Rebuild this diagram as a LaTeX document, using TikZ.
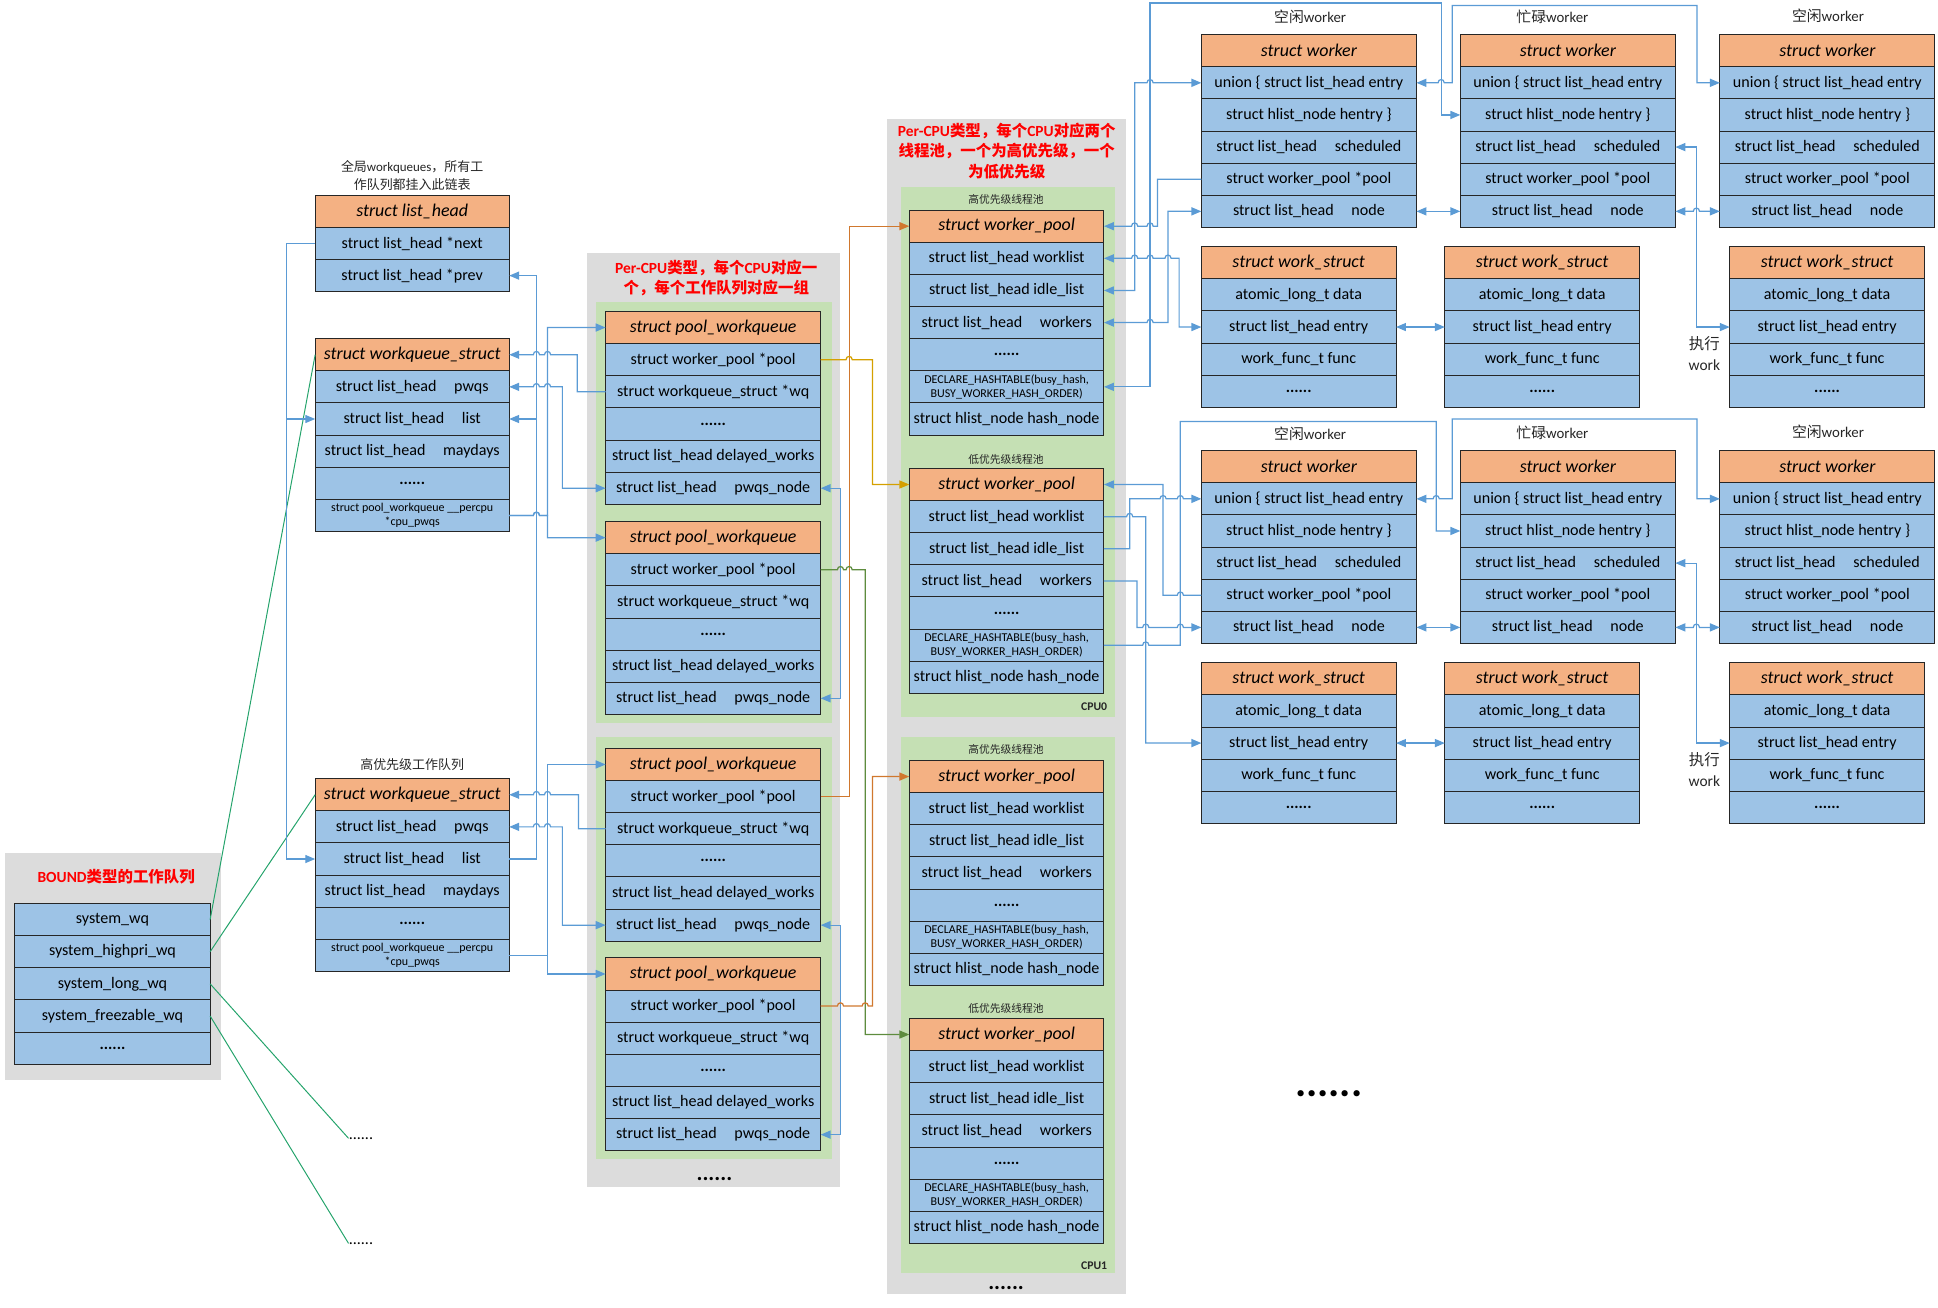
\documentclass[tikz,border=0pt]{standalone}
\usepackage{fontspec}
\setmainfont{Carlito}
\newfontfamily\cjk{Noto Sans CJK SC}
\usetikzlibrary{arrows.meta, positioning}

\definecolor{hdrfill}{HTML}{F4B183}
\definecolor{fldfill}{HTML}{9DC3E6}
\definecolor{grpgray}{HTML}{DCDCDC}
\definecolor{grpgreen}{HTML}{C5E0B4}
\definecolor{lnblue}{HTML}{5B9BD5}
\definecolor{lnorange}{HTML}{D0782E}
\definecolor{lngold}{HTML}{D4A000}
\definecolor{lngreen}{HTML}{5E8C3E}
\definecolor{lnbound}{HTML}{24A36B}
\definecolor{ttlred}{HTML}{FF0000}

\newcommand{\zh}[1]{{\cjk #1}}
\newcommand{\smfont}{\fontsize{9.7}{11.5}\selectfont}
\protected\def\rowdots{\textbf{......}}
% hop over a vertical line, going left / going right
\newcommand{\hopl}[2]{-- (#1+2.5,#2) .. controls (#1+2.5,#2-3.5) and (#1-2.5,#2-3.5) .. (#1-2.5,#2)}
\newcommand{\hopr}[2]{-- (#1-2.5,#2) .. controls (#1-2.5,#2-3.5) and (#1+2.5,#2-3.5) .. (#1+2.5,#2)}

% rows of each struct
\newcommand{\lhrows}{next/struct list\_head *next, prev/struct list\_head *prev}
\newcommand{\wqrows}{pwqs/struct list\_head\hspace{1.1em}pwqs, list/struct list\_head\hspace{1.1em}list, mayd/struct list\_head\hspace{1.1em}maydays, dots/\rowdots, cpu/\smfont struct pool\_workqueue \_\_percpu\\[-3.5pt]\smfont *cpu\_pwqs}
\newcommand{\pwqrows}{pool/struct worker\_pool *pool, wq/struct workqueue\_struct *wq, dots/\rowdots, dly/struct list\_head delayed\_works, node/struct list\_head\hspace{1.1em}pwqs\_node}
\newcommand{\wprows}{work/struct list\_head worklist, idle/struct list\_head idle\_list, wkrs/struct list\_head\hspace{1.1em}workers, dots/\rowdots, busy/\smfont DECLARE\_HASHTABLE(busy\_hash{,}\\[-3.5pt]\smfont BUSY\_WORKER\_HASH\_ORDER), hash/struct hlist\_node hash\_node}
\newcommand{\wkrows}{entry/union \{ struct list\_head entry, hent/struct hlist\_node hentry \}, sched/struct list\_head\hspace{1.1em}scheduled, pool/struct worker\_pool *pool, node/struct list\_head\hspace{1.1em}node}
\newcommand{\wsrows}{data/atomic\_long\_t data, entry/struct list\_head entry, func/work\_func\_t func, dots/\rowdots}

% header node plus its rows stacked below
\newcommand{\structbox}[5]{%
  \node[hdr, minimum width=#3, anchor=north west] (#1) at (#2) {#4};
  \xdef\lastrow{#1}%
  \foreach \rn/\rt in #5 {%
    \node[fld, minimum width=#3, below=0pt of \lastrow] (#1-\rn) {\rt};
    \xdef\lastrow{#1-\rn}%
  }%
}

\begin{document}
\begin{tikzpicture}[x=1pt, y=-1pt, >={Triangle[length=8pt,width=6.5pt]},
  hdr/.style={draw=black!85, line width=0.8pt, fill=hdrfill, minimum height=26, inner sep=1pt, outer sep=0pt, font=\fontsize{14.5}{17}\selectfont\itshape},
  fld/.style={draw=black!85, line width=0.8pt, fill=fldfill, minimum height=26, inner sep=1pt, outer sep=0pt, align=center, font=\fontsize{13}{15}\selectfont},
  lbl/.style={inner sep=0pt, align=center, text=black!85, font=\fontsize{10.5}{14.5}\selectfont},
  ttl/.style={inner sep=0pt, align=center, text=ttlred, font=\fontsize{12.5}{16.5}\selectfont\bfseries},
  pooltag/.style={inner sep=0pt, text=black!85, font=\fontsize{8.7}{10}\selectfont},
  cputag/.style={inner sep=0pt, anchor=east, text=black!85, font=\fontsize{9.5}{10}\selectfont\bfseries},
  wktag/.style={inner sep=0pt, text=black!85, font=\fontsize{12}{14}\selectfont},
  link/.style={draw=lnblue, line width=1pt},
  olink/.style={draw=lnorange, line width=1pt},
  ylink/.style={draw=lngold, line width=1pt},
  glink/.style={draw=lngreen, line width=1pt},
  bline/.style={draw=lnbound, line width=0.8pt}]

\useasboundingbox (0,0) rectangle (1568,1058);

% groups
\fill[grpgray] (4,690) rectangle (179,874);
\fill[grpgray] (475,205) rectangle (680,960);
\fill[grpgreen] (482,244) rectangle (673,585);
\fill[grpgreen] (482,596) rectangle (673,938);
\fill[grpgray] (718,96) rectangle (911,1047);
\fill[grpgreen] (729,151) rectangle (902,580);
\fill[grpgreen] (729,596) rectangle (902,1030);

% labels
\node[ttl] (boundttl) at (94,709.5) {BOUND\zh{类型的工作队列}};
\node[lbl] (lhlbl) at (333.5,142) {\zh{全局}workqueues\zh{，所有工}\\\zh{作队列都挂入此链表}};
\node[lbl] (hqlbl) at (333.5,619) {\zh{高优先级工作队列}};
\node[ttl] (pwqttl) at (579.5,225) {Per-CPU\zh{类型，每个}CPU\zh{对应一}\\\zh{个，每个工作队列对应一组}};
\node[ttl] (wpttl) at (814.5,122) {Per-CPU\zh{类型，每个}CPU\zh{对应两个}\\\zh{线程池，一个为高优先级，一个}\\\zh{为低优先级}};
\node[pooltag] (hi0) at (814,161) {\zh{高优先级线程池}};
\node[pooltag] (lo0) at (814,371.5) {\zh{低优先级线程池}};
\node[pooltag] (hi1) at (814,606) {\zh{高优先级线程池}};
\node[pooltag] (lo1) at (814,816) {\zh{低优先级线程池}};
\node[cputag] (cpu0) at (896,572) {CPU0};
\node[cputag] (cpu1) at (896,1024) {CPU1};
\node[inner sep=0pt, font=\fontsize{18}{18}\selectfont\bfseries] (more1) at (578,954) {......};
\node[inner sep=0pt, font=\fontsize{18}{18}\selectfont\bfseries] (more2) at (814,1042) {......};
\node[inner sep=0pt, font=\fontsize{34}{34}\selectfont\bfseries] (more3) at (1075,885) {......};
\node[inner sep=0pt, anchor=west, font=\fontsize{13}{13}\selectfont] (etc1) at (282,921) {......};
\node[inner sep=0pt, anchor=west, font=\fontsize{13}{13}\selectfont] (etc2) at (282,1006) {......};
\node[wktag] (idle1) at (1060,14) {\zh{空闲}worker};
\node[wktag] (busy1) at (1256,14) {\zh{忙碌}worker};
\node[wktag] (idle2) at (1479,13) {\zh{空闲}worker};
\node[wktag] (idle3) at (1060,351) {\zh{空闲}worker};
\node[wktag] (busy2) at (1256,350) {\zh{忙碌}worker};
\node[wktag] (idle4) at (1479,349.5) {\zh{空闲}worker};
\node[wktag, align=center, font=\fontsize{12.5}{16.5}\selectfont] (run1) at (1379,286) {\zh{执行}\\work};
\node[wktag, align=center, font=\fontsize{12.5}{16.5}\selectfont] (run2) at (1379,622.5) {\zh{执行}\\work};

% BOUND work queues
\node[fld, minimum width=158, anchor=north west] (bq-1) at (12,731) {system\_wq};
\node[fld, minimum width=158, below=0pt of bq-1] (bq-2) {system\_highpri\_wq};
\node[fld, minimum width=158, below=0pt of bq-2] (bq-3) {system\_long\_wq};
\node[fld, minimum width=158, below=0pt of bq-3] (bq-4) {system\_freezable\_wq};
\node[fld, minimum width=158, below=0pt of bq-4] (bq-5) {\rowdots};

% structs
\structbox{lh}{255,158}{157}{struct list\_head}{\lhrows}
\structbox{wq1}{255,274}{157}{struct workqueue\_struct}{\wqrows}
\structbox{wq2}{255,630}{157}{struct workqueue\_struct}{\wqrows}
\structbox{pwq1}{490,252}{174}{struct pool\_workqueue}{\pwqrows}
\structbox{pwq2}{490,422}{174}{struct pool\_workqueue}{\pwqrows}
\structbox{pwq3}{490,605.5}{174}{struct pool\_workqueue}{\pwqrows}
\structbox{pwq4}{490,775}{174}{struct pool\_workqueue}{\pwqrows}
\structbox{wp1}{735.7,170}{157.5}{struct worker\_pool}{\wprows}
\structbox{wp2}{735.7,379}{157.5}{struct worker\_pool}{\wprows}
\structbox{wp3}{735.7,615.3}{157.5}{struct worker\_pool}{\wprows}
\structbox{wp4}{735.7,824}{157.5}{struct worker\_pool}{\wprows}
\structbox{wa}{972,28}{174}{struct worker}{\wkrows}
\structbox{wb}{1181.5,28}{174}{struct worker}{\wkrows}
\structbox{wc}{1391.5,28}{174}{struct worker}{\wkrows}
\structbox{ua}{972,199.6}{157.5}{struct work\_struct}{\wsrows}
\structbox{ub}{1169,199.6}{157.5}{struct work\_struct}{\wsrows}
\structbox{uc}{1399.5,199.6}{157.5}{struct work\_struct}{\wsrows}
\structbox{la}{972,364.6}{174}{struct worker}{\wkrows}
\structbox{lb}{1181.5,364.6}{174}{struct worker}{\wkrows}
\structbox{lc}{1391.5,364.6}{174}{struct worker}{\wkrows}
\structbox{va}{972,536.2}{157.5}{struct work\_struct}{\wsrows}
\structbox{vb}{1169,536.2}{157.5}{struct work\_struct}{\wsrows}
\structbox{vc}{1399.5,536.2}{157.5}{struct work\_struct}{\wsrows}

% BOUND -> workqueues
\draw[bline] (bq-1.east) -- (wq1.west);
\draw[bline] (bq-2.east) -- (wq2.west);
\draw[bline] (bq-3.east) -- (etc1.west);
\draw[bline] (bq-4.east) -- (etc2.west);

% global workqueues list
\draw[link,->] (lh-next.west) -- (232,197) |- (wq1-list.west);
\draw[link,->] (lh-next.west) -- (232,197) |- (wq2-list.west);
\draw[link,->] (wq2-list.east) -- (434,695) |- (wq1-list.east);
\draw[link,->] (wq2-list.east) -- (434,695) |- (lh-prev.east);

% workqueue <-> pool_workqueue
\draw[link,->] (pwq1-wq.west) -- (467,317) -- (467,287) \hopl{443}{287} \hopl{434}{287} -- (wq1.east);
\draw[link,<->] (wq1-pwqs.east) \hopr{434}{313} \hopr{443}{313} -- (455,313) |- (pwq1-node.west);
\draw[link,->] (wq1-cpu.east) \hopr{434}{417} -- (443,417) |- (pwq1.west);
\draw[link,->] (wq1-cpu.east) \hopr{434}{417} -- (443,417) |- (pwq2.west);
\draw[link,<->] (pwq1-node.east) -- (680,395) |- (pwq2-node.east);
\draw[link,->] (pwq3-wq.west) -- (468,670.5) -- (468,643) \hopl{443}{643} \hopl{434}{643} -- (wq2.east);
\draw[link,<->] (wq2-pwqs.east) \hopr{434}{669} \hopr{443}{669} -- (455,669) |- (pwq3-node.west);
\draw[link,->] (wq2-cpu.east) -- (443,773) |- (pwq3.west);
\draw[link,->] (wq2-cpu.east) -- (443,773) |- (pwq4.west);
\draw[link,<->] (pwq3-node.east) -- (680,748.5) |- (pwq4-node.east);

% pool_workqueue -> worker_pool
\draw[olink,->] (pwq3-pool.east) -- (687,644.5) |- (wp1.west);
\draw[ylink,->] (pwq1-pool.east) \hopr{687}{291} -- (706,291) |- (wp2.west);
\draw[glink,->] (pwq2-pool.east) \hopr{680}{461} \hopr{687}{461} -- (700,461) |- (wp4.west);
\draw[olink,->] (pwq4-pool.east) \hopr{680}{814} \hopr{700}{814} -- (706,814) |- (wp3.west);

% CPU0 high priority pool and its workers
\draw[link,->] (wa-pool.west) -- (936.5,145) -- (936.5,183) \hopl{930.5}{183} \hopl{918}{183} -- (wp1.east);
\draw[link,<->] (wp1-work.east) \hopr{918}{209} \hopr{930.5}{209} \hopr{945}{209} -- (954,209) |- (ua-entry.west);
\draw[link,<->] (wp1-idle.east) -- (918,235) -- (918,67) \hopr{930.5}{67} -- (wa-entry.west);
\draw[link,<->] (wp1-wkrs.east) \hopr{930.5}{261} -- (945,261) |- (wa-node.west);
\draw[link,<->] (wp1-busy.east) -- (930.5,313) -- (930.5,2.5) -- (1166,2.5) |- (wb-hent.west);
\draw[link,<->] (wa-entry.east) \hopr{1166}{67} -- (1175,67) -- (1175,4.5) -- (1373,4.5) |- (wc-entry.west);
\draw[link,<->] (wa-node.east) -- (wb-node.west);
\draw[link,<->] (wb-node.east) \hopr{1372.5}{171} -- (wc-node.west);
\draw[link,<->] (wb-sched.east) -- (1372.5,119) |- (uc-entry.west);
\draw[link,<->] (ua-entry.east) -- (ub-entry.west);

% CPU0 low priority pool and its workers
\draw[link,->] (la-pool.west) \hopl{955}{481.6} -- (941,481.6) -- (941,392) -- (wp2.east);
\draw[link,->] (wp2-work.east) \hopr{914}{418} -- (927,418) |- (va-entry.west);
\draw[link,->] (wp2-idle.east) -- (914,444) -- (914,403.6) \hopr{941}{403.6} \hopr{955}{403.6} -- (la-entry.west);
\draw[link,->] (wp2-wkrs.east) -- (920,470) -- (920,507.6) \hopr{927}{507.6} \hopr{955}{507.6} -- (la-node.west);
\draw[link,->] (wp2-busy.east) \hopr{927}{522} -- (955,522) -- (955,341) -- (1162,341) |- (lb-hent.west);
\draw[link,<->] (la-entry.east) \hopr{1162}{403.6} -- (1175,403.6) -- (1175,339) -- (1373,339) |- (lc-entry.west);
\draw[link,<->] (la-node.east) -- (lb-node.west);
\draw[link,<->] (lb-node.east) \hopr{1372.5}{507.6} -- (lc-node.west);
\draw[link,<->] (lb-sched.east) -- (1372.5,455.6) |- (vc-entry.west);
\draw[link,<->] (va-entry.east) -- (vb-entry.west);
\end{tikzpicture}
\end{document}
